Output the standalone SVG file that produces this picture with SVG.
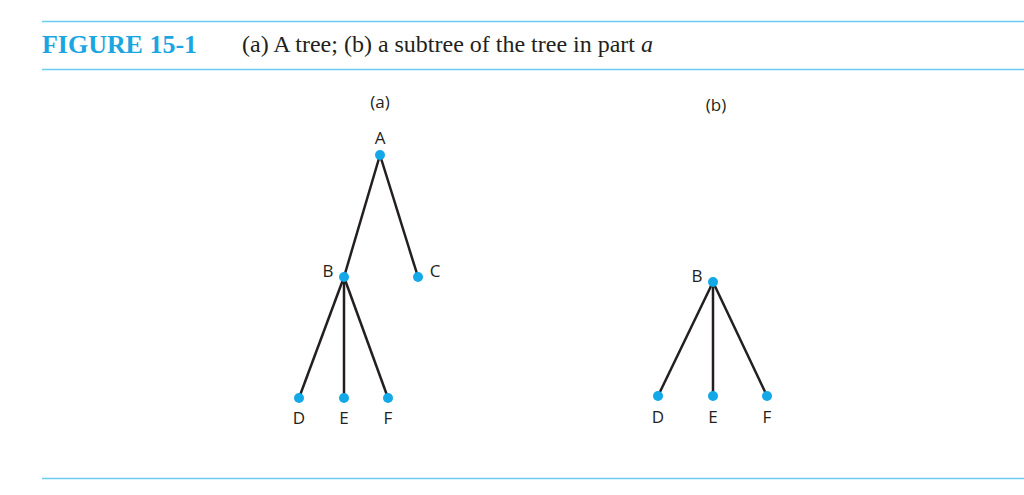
<svg xmlns="http://www.w3.org/2000/svg" width="1024" height="495" viewBox="0 0 1024 495">
<style>
.rule{stroke:#6ccbf0;stroke-width:1.5}
.edge{stroke:#231f20;stroke-width:2.5;fill:none}
.dot{fill:#13a8e8}
.lbl{font-family:"Open Sans","Noto Sans",sans-serif;font-size:17px;fill:#231f20;text-anchor:middle}
</style>
<rect width="1024" height="495" fill="#fff"/>
<g id="header">
<line class="rule" x1="42" y1="21.5" x2="1024" y2="21.5"/>
<line class="rule" x1="42" y1="69.5" x2="1024" y2="69.5"/>
<text x="42" y="52.5" font-family="'Liberation Serif',serif" font-weight="bold" font-size="26" fill="#1ba6e2" textLength="155" lengthAdjust="spacingAndGlyphs">FIGURE 15-1</text>
<text x="242" y="52" font-family="'Liberation Serif',serif" font-size="24" fill="#231f20" textLength="411" lengthAdjust="spacingAndGlyphs">(a) A tree; (b) a subtree of the tree in part <tspan font-style="italic">a</tspan></text>
</g>
<g id="connectors">
<line class="edge" x1="380" y1="155" x2="344" y2="277"/>
<line class="edge" x1="380" y1="155" x2="418" y2="277"/>
<line class="edge" x1="344" y1="277" x2="299" y2="398"/>
<line class="edge" x1="344" y1="277" x2="344" y2="398"/>
<line class="edge" x1="344" y1="277" x2="388" y2="398"/>
<line class="edge" x1="713" y1="282" x2="658" y2="396"/>
<line class="edge" x1="713" y1="282" x2="713" y2="396"/>
<line class="edge" x1="713" y1="282" x2="767" y2="396"/>
</g>
<g id="title-a"><text class="lbl" x="380" y="108">(a)</text></g>
<g id="title-b"><text class="lbl" x="716" y="111">(b)</text></g>
<g id="a-A"><circle class="dot" cx="380" cy="155" r="5"/><text class="lbl" x="380" y="144">A</text></g>
<g id="a-B"><circle class="dot" cx="344" cy="277" r="5"/><text class="lbl" x="328" y="277">B</text></g>
<g id="a-C"><circle class="dot" cx="418" cy="277" r="5"/><text class="lbl" x="435" y="277">C</text></g>
<g id="a-D"><circle class="dot" cx="299" cy="398" r="5"/><text class="lbl" x="299" y="424">D</text></g>
<g id="a-E"><circle class="dot" cx="344" cy="398" r="5"/><text class="lbl" x="344" y="424">E</text></g>
<g id="a-F"><circle class="dot" cx="388" cy="398" r="5"/><text class="lbl" x="388" y="424">F</text></g>
<g id="b-B"><circle class="dot" cx="713" cy="282" r="5"/><text class="lbl" x="697" y="282">B</text></g>
<g id="b-D"><circle class="dot" cx="658" cy="396" r="5"/><text class="lbl" x="658" y="423">D</text></g>
<g id="b-E"><circle class="dot" cx="713" cy="396" r="5"/><text class="lbl" x="713" y="423">E</text></g>
<g id="b-F"><circle class="dot" cx="767" cy="396" r="5"/><text class="lbl" x="767" y="423">F</text></g>
<g id="footer"><line class="rule" x1="42" y1="478.5" x2="1024" y2="478.5"/></g>
</svg>
